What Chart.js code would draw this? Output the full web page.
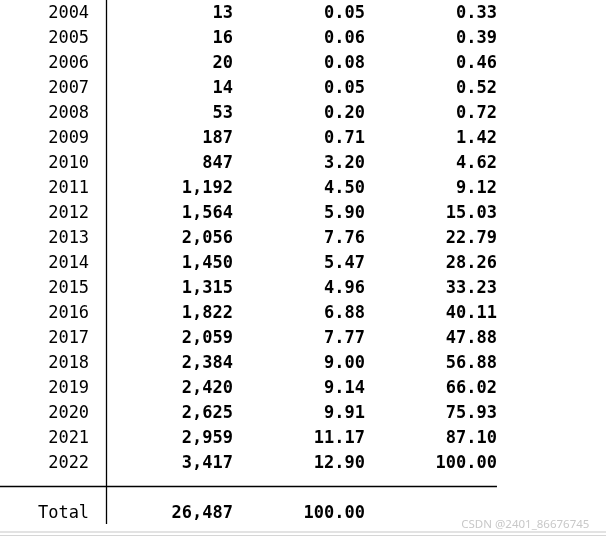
<!DOCTYPE html>
<html>
<head>
<meta charset="utf-8">
<script src="https://cdn.jsdelivr.net/npm/chart.js@4/dist/chart.umd.min.js"></script>
<style>
  html, body { margin: 0; padding: 0; background: #fff; }
  #wrap { position: relative; width: 606px; height: 536px; }
  #bottom { position: absolute; left: 0; top: 531px; width: 606px; height: 5px;
            border-top: 2px solid #e3e3e3; border-bottom: 1px solid #d6d6d6; box-sizing: border-box; }
</style>
</head>
<body>
<div id="wrap">
  <canvas id="table-chart" width="606" height="536"></canvas>
  <div id="bottom"></div>
</div>
<script>
// Table data
const years = ['2004', '2005', '2006', '2007', '2008', '2009', '2010', '2011', '2012', '2013',
  '2014', '2015', '2016', '2017', '2018', '2019', '2020', '2021', '2022'];
const freq = [13, 16, 20, 14, 53, 187, 847, 1192, 1564, 2056, 1450, 1315, 1822, 2059, 2384,
  2420, 2625, 2959, 3417];
const percent = [0.05, 0.06, 0.08, 0.05, 0.20, 0.71, 3.20, 4.50, 5.90, 7.76, 5.47, 4.96, 6.88,
  7.77, 9.00, 9.14, 9.91, 11.17, 12.90];
const cumulative = [0.33, 0.39, 0.46, 0.52, 0.72, 1.42, 4.62, 9.12, 15.03, 22.79, 28.26, 33.23,
  40.11, 47.88, 56.88, 66.02, 75.93, 87.10, 100.00];
const totalLabel = 'Total';
const totalFreq = 26487;
const totalPercent = 100.00;

// Layout (in scale units): column right edges, rules
const COL_YEAR = -0.09;
const COL_RULE = 0.038;
const TOTAL_ROW = years.length + 1;
const MONO = '"DejaVu Sans Mono", "Liberation Mono", monospace';

function fmtInt(v) {
  return v.toLocaleString('en-US');
}
function fmtPct(v) {
  return v.toFixed(2);
}

// Draw table cells through the chart scales
const tablePlugin = {
  id: 'tablePlugin',
  afterDraw(chart) {
    const ctx = chart.ctx;
    const x = chart.scales.x;
    const y = chart.scales.y;
    ctx.save();
    ctx.textAlign = 'right';
    ctx.textBaseline = 'middle';
    ctx.fillStyle = '#000';

    years.forEach((yr, i) => {
      const py = y.getPixelForValue(i) + 2;
      ctx.font = '17px ' + MONO;
      ctx.fillText(yr, x.getPixelForValue(COL_YEAR), py);
      ctx.font = 'bold 17px ' + MONO;
      ctx.fillText(fmtInt(freq[i]), x.getPixelForValue(1), py);
      ctx.fillText(fmtPct(percent[i]), x.getPixelForValue(2), py);
      ctx.fillText(fmtPct(cumulative[i]), x.getPixelForValue(3), py);
    });

    const ty = y.getPixelForValue(TOTAL_ROW) + 2;
    ctx.font = '17px ' + MONO;
    ctx.fillText(totalLabel, x.getPixelForValue(COL_YEAR), ty);
    ctx.font = 'bold 17px ' + MONO;
    ctx.fillText(fmtInt(totalFreq), x.getPixelForValue(1), ty);
    ctx.fillText(fmtPct(totalPercent), x.getPixelForValue(2), ty);

    // rules
    ctx.strokeStyle = '#000';
    ctx.lineWidth = 1.3;
    const vx = Math.round(x.getPixelForValue(COL_RULE)) + 0.5;
    ctx.beginPath();
    ctx.moveTo(vx, y.getPixelForValue(-0.48));
    ctx.lineTo(vx, y.getPixelForValue(TOTAL_ROW + 0.48));
    ctx.stroke();
    const hy = Math.round(y.getPixelForValue(years.length - 1 + 0.96)) + 0.5;
    ctx.beginPath();
    ctx.moveTo(x.getPixelForValue(x.min), hy);
    ctx.lineTo(x.getPixelForValue(3), hy);
    ctx.stroke();

    // watermark
    ctx.font = '11.5px "Noto Sans", sans-serif';
    ctx.fillStyle = '#c8c8c8';
    ctx.textAlign = 'right';
    ctx.fillText('CSDN @2401_86676745', x.getPixelForValue(3.7), y.getPixelForValue(TOTAL_ROW + 0.52));
    ctx.restore();
  }
};

document.addEventListener('DOMContentLoaded', function() {
  const points = years.map((yr, i) => ({ x: 1, y: i }));

  new Chart(document.getElementById('table-chart'), {
    type: 'scatter',
    data: {
      datasets: [{
        data: points,
        pointRadius: 0,
        showLine: false
      }]
    },
    options: {
      responsive: false,
      animation: false,
      layout: { padding: 0 },
      plugins: {
        legend: { display: false },
        tooltip: { enabled: false }
      },
      scales: {
        x: {
          type: 'linear',
          display: false,
          min: -0.765,
          max: 3.826
        },
        y: {
          type: 'linear',
          display: false,
          reverse: true,
          min: -0.48,
          max: 20.96
        }
      }
    },
    plugins: [tablePlugin]
  });
});
</script>
</body>
</html>
